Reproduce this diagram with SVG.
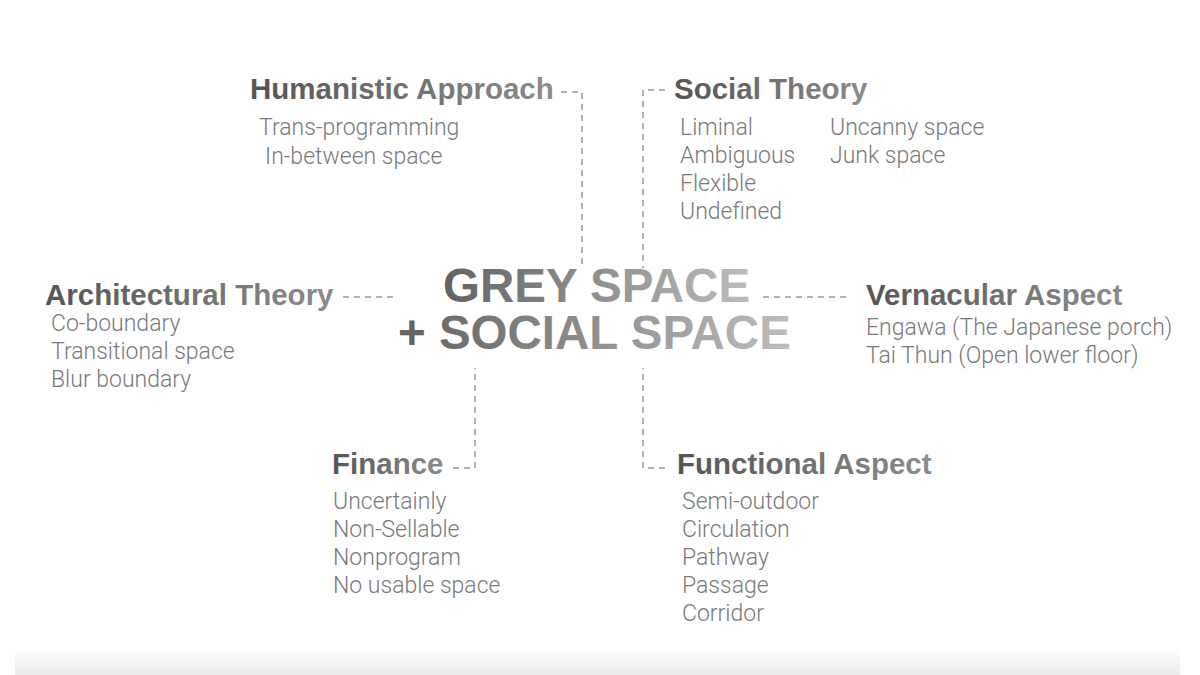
<svg xmlns="http://www.w3.org/2000/svg" width="1200" height="675" viewBox="0 0 1200 675">
<defs>
<linearGradient id="hg" x1="0" y1="0" x2="1" y2="0">
<stop offset="0" stop-color="#555"/>
<stop offset="1" stop-color="#8c8c8c"/>
</linearGradient>
<linearGradient id="tg" x1="0" y1="0" x2="1" y2="0">
<stop offset="0" stop-color="#626262"/>
<stop offset="1" stop-color="#bdbdbd"/>
</linearGradient>
<linearGradient id="bg" x1="0" y1="0" x2="0" y2="1">
<stop offset="0" stop-color="#ffffff"/>
<stop offset="1" stop-color="#ececec"/>
</linearGradient>
</defs>
<style>
.h{font-family:"Liberation Sans",Arial,sans-serif;font-weight:bold;font-size:29.5px;fill:url(#hg)}
.b{font-family:Roboto,"Liberation Sans",sans-serif;font-weight:300;font-size:23px;fill:#7a7a7a}
.t{font-family:"Liberation Sans",Arial,sans-serif;font-weight:bold;font-size:47.5px;fill:url(#tg)}
.c{fill:none;stroke:#999;stroke-width:1.5;stroke-dasharray:6 5}
</style>
<rect width="1200" height="675" fill="#fff"/>
<rect x="15" y="645" width="1165" height="30" fill="url(#bg)"/>
<g id="connectors">
<path class="c" d="M561 92 H582 V268"/>
<path class="c" d="M665 90 H643 V268"/>
<path class="c" d="M343 297 H397"/>
<path class="c" d="M763 297 H848"/>
<path class="c" d="M453 468 H475 V368"/>
<path class="c" d="M665 468 H643 V368"/>
</g>
<g id="center">
<text class="t" x="443" y="302">GREY SPACE</text>
<text class="t" x="398" y="349">+ SOCIAL SPACE</text>
</g>
<g id="humanistic">
<text class="h" x="250" y="99">Humanistic Approach</text>
<text class="b" x="259" y="135">Trans-programming</text>
<text class="b" x="265" y="164">In-between space</text>
</g>
<g id="social">
<text class="h" x="674" y="99">Social Theory</text>
<text class="b" x="680" y="135">Liminal</text>
<text class="b" x="680" y="163">Ambiguous</text>
<text class="b" x="680" y="191">Flexible</text>
<text class="b" x="680" y="219">Undefined</text>
<text class="b" x="830" y="135">Uncanny space</text>
<text class="b" x="830" y="163">Junk space</text>
</g>
<g id="architectural">
<text class="h" x="45" y="305">Architectural Theory</text>
<text class="b" x="51" y="331">Co-boundary</text>
<text class="b" x="51" y="359">Transitional space</text>
<text class="b" x="51" y="387">Blur boundary</text>
</g>
<g id="vernacular">
<text class="h" x="866" y="305">Vernacular Aspect</text>
<text class="b" x="866" y="335">Engawa (The Japanese porch)</text>
<text class="b" x="866" y="363">Tai Thun (Open lower floor)</text>
</g>
<g id="finance">
<text class="h" x="332" y="474">Finance</text>
<text class="b" x="333" y="509">Uncertainly</text>
<text class="b" x="333" y="537">Non-Sellable</text>
<text class="b" x="333" y="565">Nonprogram</text>
<text class="b" x="333" y="593">No usable space</text>
</g>
<g id="functional">
<text class="h" x="677" y="474">Functional Aspect</text>
<text class="b" x="682" y="509">Semi-outdoor</text>
<text class="b" x="682" y="537">Circulation</text>
<text class="b" x="682" y="565">Pathway</text>
<text class="b" x="682" y="593">Passage</text>
<text class="b" x="682" y="621">Corridor</text>
</g>
</svg>
